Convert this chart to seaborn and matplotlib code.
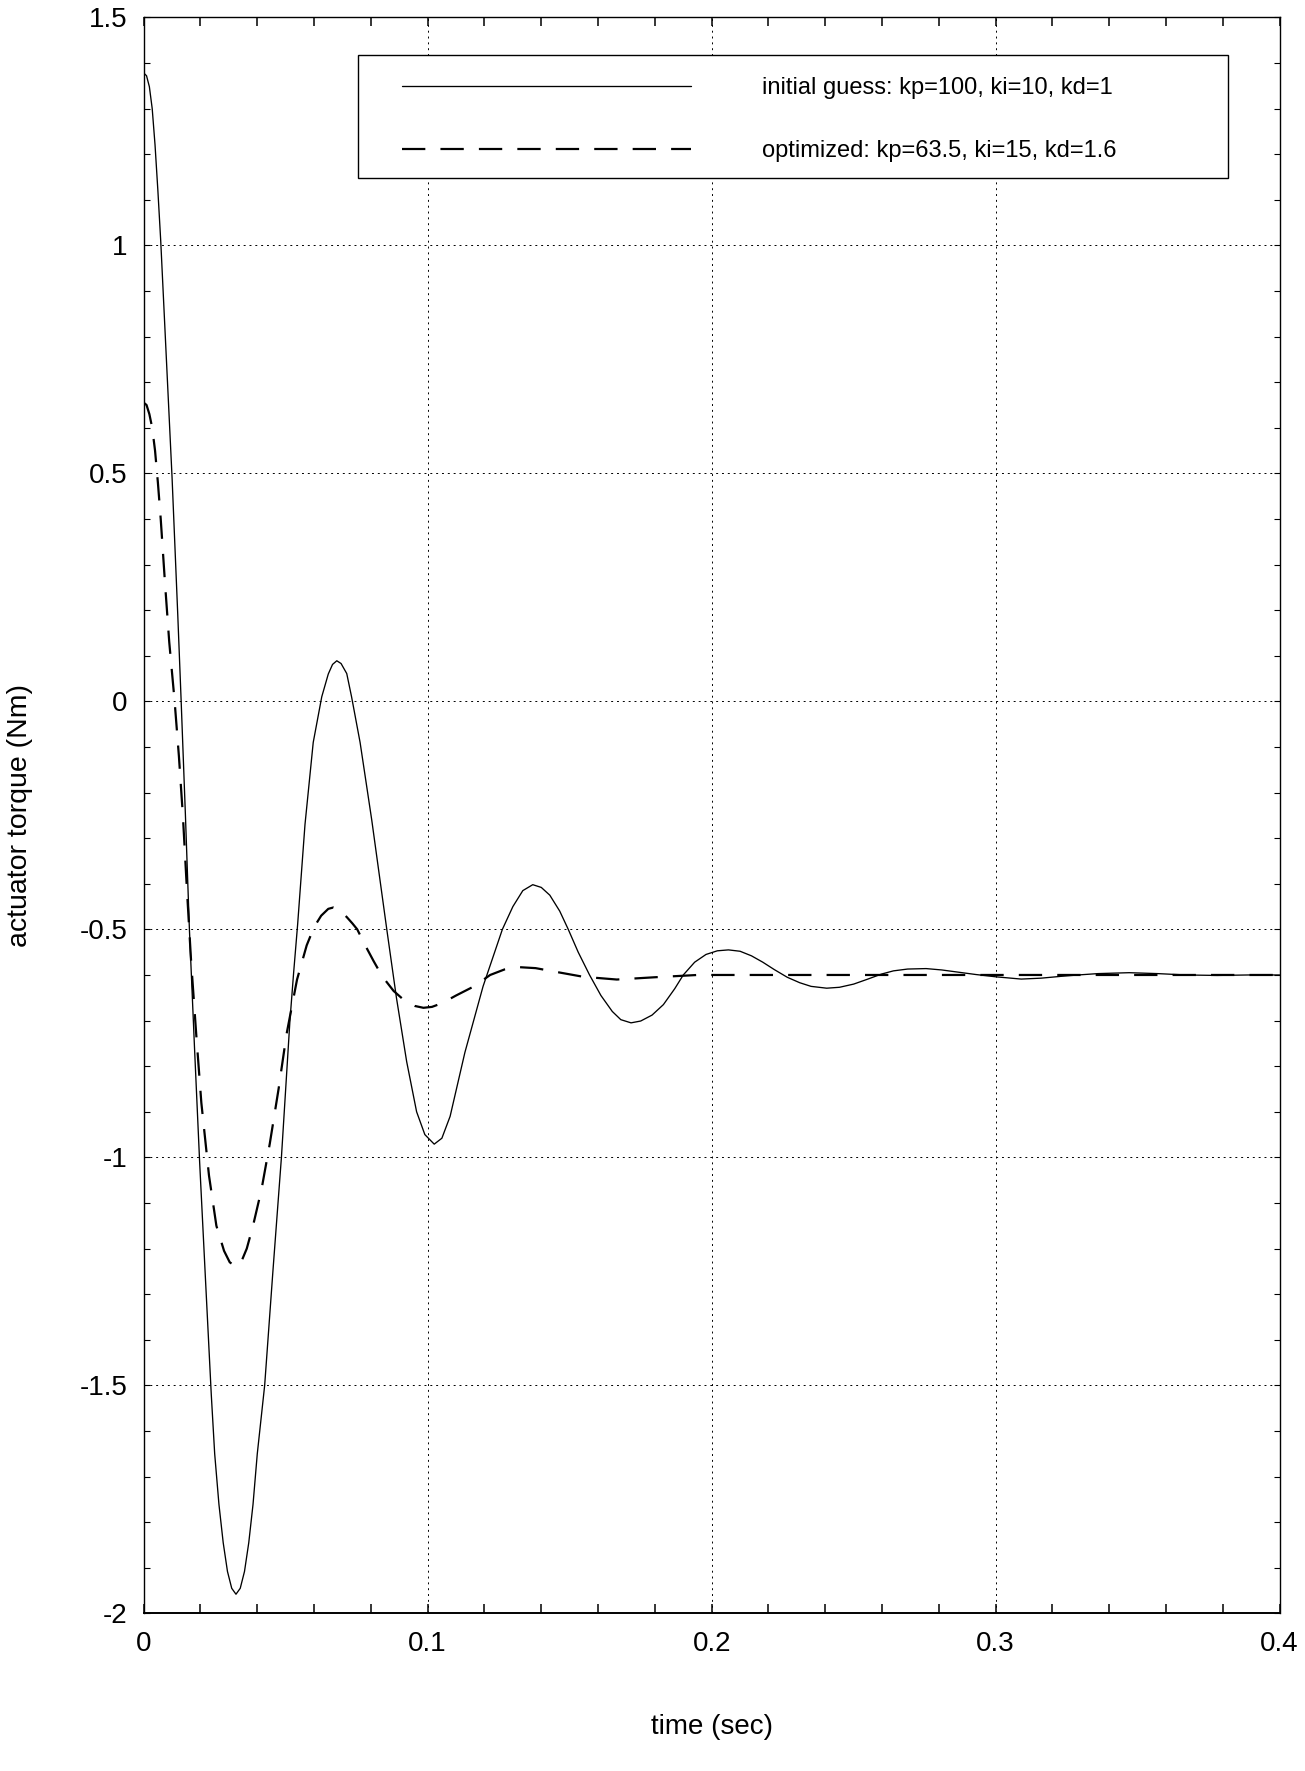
import numpy as np
import pandas as pd
import matplotlib
matplotlib.use("Agg")
import matplotlib.pyplot as plt
import matplotlib.ticker as mticker
from matplotlib.patches import Rectangle
import seaborn as sns

# ---------------- data ----------------
t_initial = [0.000, 0.001, 0.002, 0.003, 0.004, 0.005, 0.006, 0.007, 0.008, 0.009,
             0.010, 0.011, 0.012, 0.0132, 0.0147, 0.0161, 0.0179, 0.0197, 0.0217, 0.0238,
             0.025, 0.0265, 0.028, 0.0295, 0.031, 0.0325, 0.034, 0.0355, 0.037, 0.0385,
             0.040, 0.0426, 0.0455, 0.0485, 0.0515, 0.0528, 0.0542, 0.0568, 0.0597, 0.0627,
             0.065, 0.0665, 0.068, 0.0695, 0.0715, 0.0732, 0.0762, 0.0803, 0.0856, 0.089,
             0.0926, 0.0961, 0.099, 0.1023, 0.105, 0.1079, 0.1131, 0.1195, 0.1263, 0.130,
             0.1335, 0.137, 0.140, 0.143, 0.1465, 0.1495, 0.153, 0.157, 0.161, 0.165,
             0.168, 0.1716, 0.175, 0.179, 0.183, 0.187, 0.190, 0.194, 0.198, 0.202,
             0.2059, 0.210, 0.214, 0.218, 0.222, 0.2266, 0.231, 0.235, 0.2405, 0.245,
             0.250, 0.255, 0.2598, 0.264, 0.269, 0.2755, 0.281, 0.287, 0.293, 0.300,
             0.309, 0.316, 0.323, 0.329, 0.336, 0.347, 0.357, 0.367, 0.378, 0.389, 0.400]
v_initial = [1.378, 1.372, 1.348, 1.300, 1.220, 1.120, 1.010, 0.880, 0.750, 0.620,
             0.490, 0.340, 0.190, 0.000, -0.250, -0.500, -0.760, -1.010, -1.260, -1.520,
             -1.650, -1.761, -1.845, -1.908, -1.945, -1.958, -1.945, -1.908, -1.845, -1.761,
             -1.650, -1.500, -1.250, -1.000, -0.700, -0.595, -0.490, -0.270, -0.090, 0.010,
             0.060, 0.081, 0.089, 0.083, 0.061, 0.010, -0.090, -0.260, -0.500, -0.650,
             -0.790, -0.900, -0.950, -0.971, -0.958, -0.910, -0.770, -0.625, -0.500, -0.450,
             -0.415, -0.402, -0.408, -0.425, -0.460, -0.500, -0.550, -0.600, -0.645, -0.680,
             -0.698, -0.705, -0.701, -0.688, -0.665, -0.630, -0.600, -0.572, -0.555, -0.547,
             -0.545, -0.548, -0.558, -0.572, -0.588, -0.605, -0.617, -0.625, -0.629, -0.627,
             -0.620, -0.609, -0.598, -0.591, -0.587, -0.586, -0.589, -0.594, -0.599, -0.604,
             -0.609, -0.607, -0.603, -0.600, -0.597, -0.595, -0.597, -0.600, -0.601, -0.600, -0.600]

t_optimized = [0.000, 0.001, 0.002, 0.003, 0.004, 0.005, 0.006, 0.0075, 0.009, 0.0109,
               0.0124, 0.0138, 0.0152, 0.0167, 0.0185, 0.0203, 0.0230, 0.0256, 0.0283, 0.0303,
               0.0323, 0.0343, 0.0363, 0.0385, 0.0415, 0.0444, 0.0475, 0.0503, 0.054, 0.0574,
               0.060, 0.0625, 0.065, 0.0668, 0.069, 0.0715, 0.0735, 0.0752, 0.078, 0.081,
               0.084, 0.088, 0.092, 0.0955, 0.0985, 0.1015, 0.105, 0.110, 0.1163, 0.122,
               0.127, 0.1325, 0.138, 0.145, 0.1548, 0.1666, 0.180, 0.195, 0.220, 0.260,
               0.300, 0.350, 0.400]
v_optimized = [0.655, 0.650, 0.630, 0.600, 0.550, 0.480, 0.400, 0.260, 0.130, 0.000,
               -0.120, -0.250, -0.410, -0.570, -0.730, -0.880, -1.040, -1.150, -1.205, -1.230,
               -1.239, -1.230, -1.200, -1.150, -1.070, -0.970, -0.850, -0.730, -0.610, -0.535,
               -0.495, -0.470, -0.455, -0.452, -0.458, -0.473, -0.487, -0.500, -0.535, -0.570,
               -0.603, -0.635, -0.657, -0.668, -0.672, -0.670, -0.662, -0.645, -0.625, -0.600,
               -0.588, -0.583, -0.585, -0.593, -0.604, -0.610, -0.605, -0.600, -0.600, -0.600,
               -0.600, -0.600, -0.600]

labels = ["initial guess: kp=100, ki=10, kd=1", "optimized: kp=63.5, ki=15, kd=1.6"]
x_ticks = [0.0, 0.1, 0.2, 0.3, 0.4]
y_ticks = [-2.0, -1.5, -1.0, -0.5, 0.0, 0.5, 1.0, 1.5]
x_label = "time (sec)"
y_label = "actuator torque (Nm)"

# ---------------- style ----------------
sns.set_theme(style="ticks")
plt.rcParams["font.family"] = ["Liberation Sans", "DejaVu Sans"]
plt.rcParams["axes.unicode_minus"] = False
plt.rcParams["text.color"] = "black"
plt.rcParams["axes.labelcolor"] = "black"
plt.rcParams["xtick.color"] = "black"
plt.rcParams["ytick.color"] = "black"

fig = plt.figure(figsize=(13.05, 17.71), dpi=100)
ax = fig.add_axes([0.1101, 0.0890, 0.8705, 0.9012])

df1 = pd.DataFrame({"t": t_initial, "v": v_initial})
df2 = pd.DataFrame({"t": t_optimized, "v": v_optimized})

sns.lineplot(data=df1, x="t", y="v", ax=ax, color="black", linewidth=0.95,
             estimator=None, label=labels[0])
sns.lineplot(data=df2, x="t", y="v", ax=ax, color="black", linewidth=1.6,
             linestyle=(0, (10.5, 6.8)), estimator=None, label=labels[1])

ax.set_xlim(0, 0.4)
ax.set_ylim(-2, 1.5)
ax.xaxis.set_major_locator(mticker.FixedLocator(x_ticks))
ax.yaxis.set_major_locator(mticker.FixedLocator(y_ticks))
ax.xaxis.set_minor_locator(mticker.MultipleLocator(0.02))
ax.yaxis.set_minor_locator(mticker.MultipleLocator(0.1))
fmt = mticker.FuncFormatter(lambda v, p: "%g" % round(v, 3))
ax.xaxis.set_major_formatter(fmt)
ax.yaxis.set_major_formatter(fmt)

ax.tick_params(axis="x", which="both", direction="in", top=True, bottom=True,
               length=6.5, width=1.1, labelsize=20, pad=12.5)
ax.tick_params(axis="y", which="both", direction="in", left=True, right=True,
               length=4.3, width=0.8, labelsize=20, pad=11.5)

for s in ax.spines.values():
    s.set_visible(True)
    s.set_color("black")
    s.set_linewidth(1.0)
ax.spines["bottom"].set_linewidth(1.4)

ax.grid(True, which="major", color="black", linewidth=0.7, linestyle=(0, (2, 4)))
ax.set_axisbelow(True)

ax.set_xlabel(x_label, fontsize=20, va="center")
ax.set_ylabel(y_label, fontsize=20.5, va="center")
ax.xaxis.set_label_coords(0.5, -0.0709)
ax.yaxis.set_label_coords(-0.1089, 0.5)

leg = ax.legend(loc="upper left", bbox_to_anchor=(0.2271, 0.9624), frameon=False,
                fontsize=17, borderpad=0, borderaxespad=0, handlelength=12.25,
                handletextpad=3.0, labelspacing=1.72)
leg.set_zorder(6)
for line in leg.get_lines():
    line.set_color("black")

ax.add_patch(Rectangle((0.1886, 0.8993), 0.7658, 0.0771, transform=ax.transAxes,
                       facecolor="white", edgecolor="black", linewidth=1.0, zorder=5))

fig.savefig("out.png", dpi=100)
